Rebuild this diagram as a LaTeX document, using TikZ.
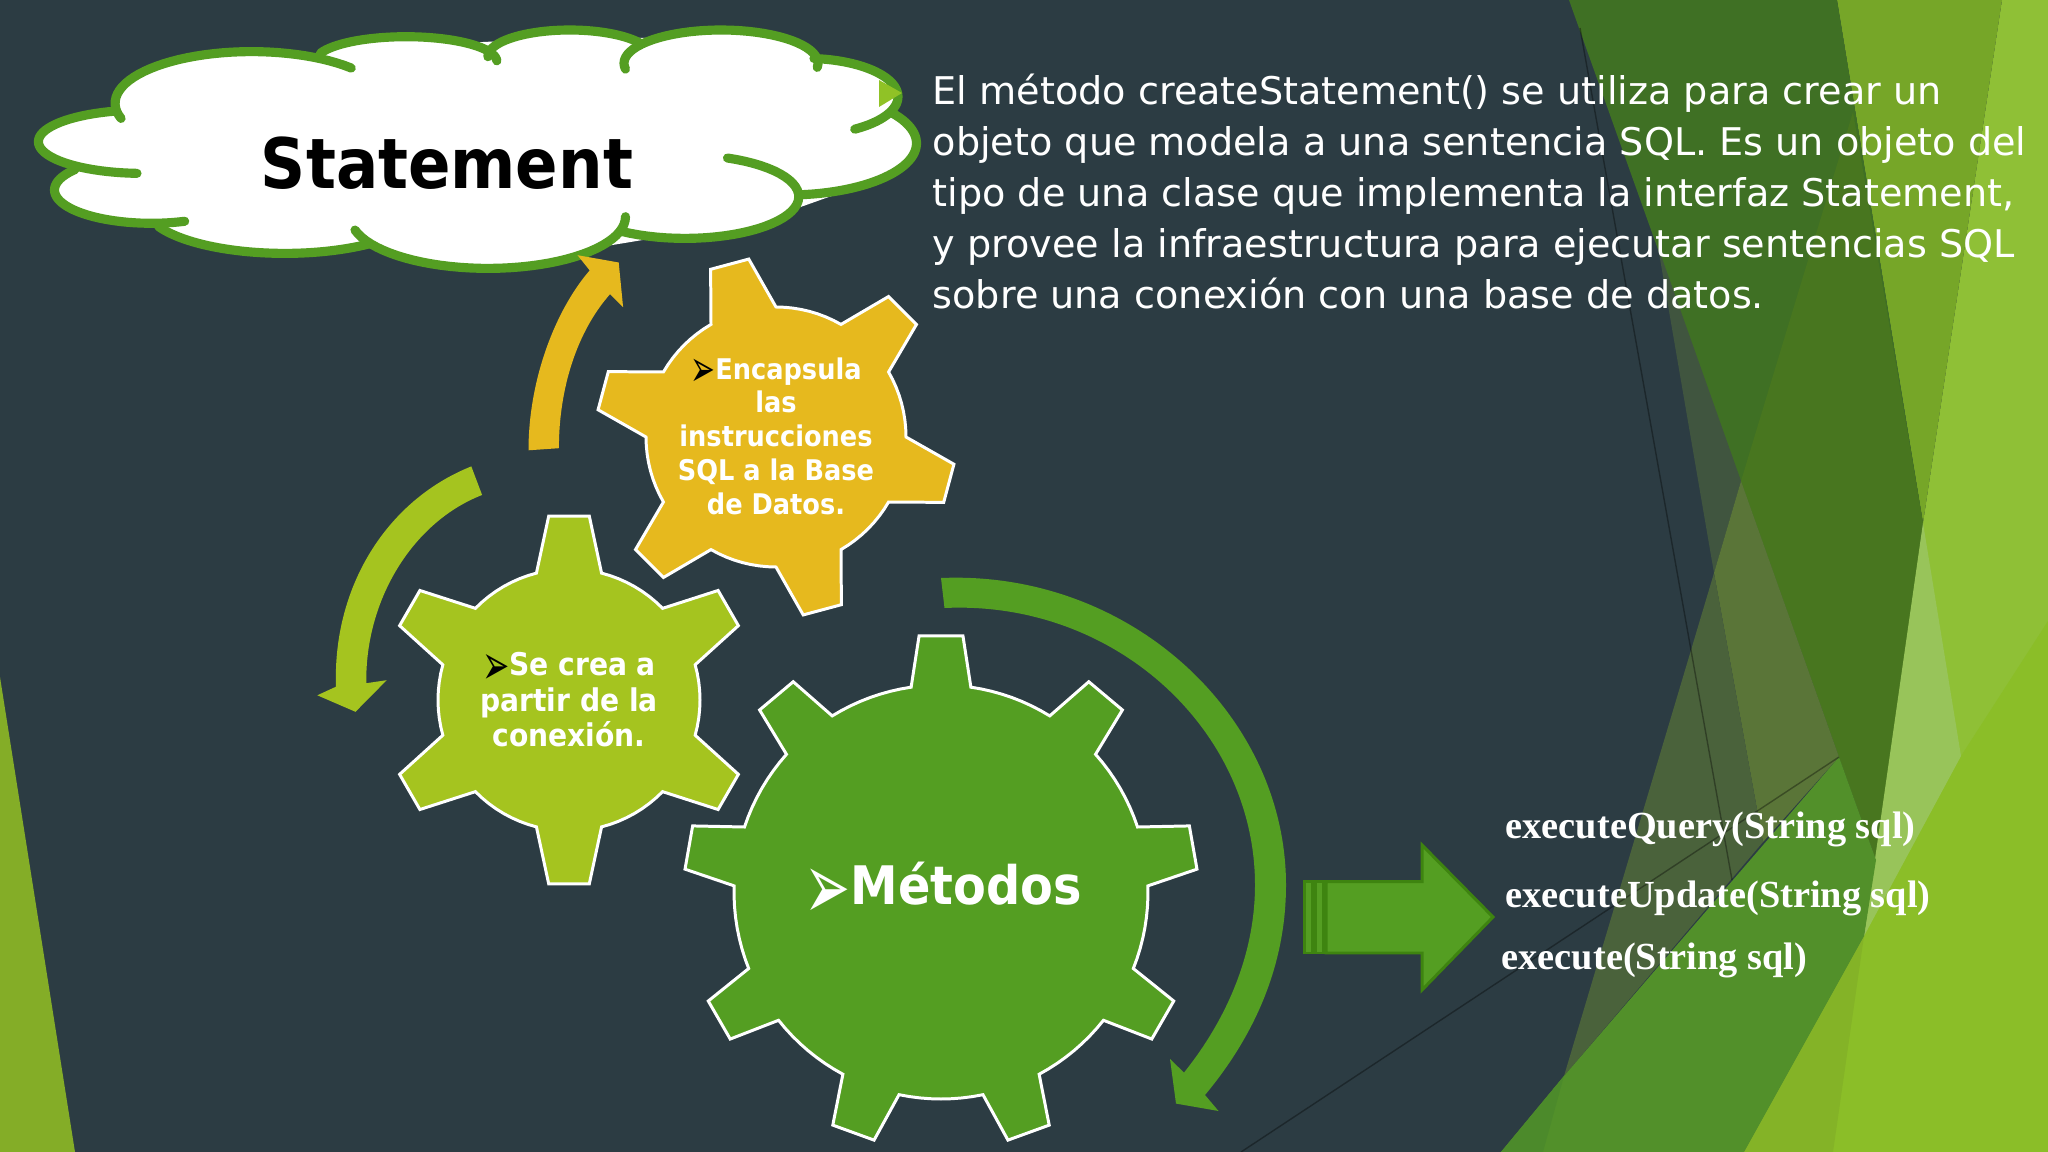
\documentclass[tikz,border=0pt]{standalone}
\usepackage{fontspec}
\setmainfont{DejaVu Sans}
\newfontfamily\gearFont{DejaVu Sans Condensed}
\newfontfamily\bulletFont{DejaVu Sans}[FakeStretch=0.58]
\newfontfamily\serifBold{Liberation Serif}[BoldFont={Liberation Serif Bold}]
\usetikzlibrary{calc}
\definecolor{slideDark}{HTML}{2C3C43}
\definecolor{amberGear}{HTML}{E6B91E}
\definecolor{limeGear}{HTML}{A5C41F}
\definecolor{greenGear}{HTML}{549E22}
\definecolor{arrowEdge}{HTML}{3E8410}
\definecolor{fBright}{HTML}{8FC036}
\definecolor{fBrightLow}{HTML}{8BBE28}
\definecolor{fStrip}{HTML}{84B327}
\definecolor{fMid}{HTML}{76A628}
\definecolor{fDark}{HTML}{3F7024}
\definecolor{fDarkLow}{HTML}{48761F}
\definecolor{fPale}{HTML}{98C45A}
\definecolor{fGreen}{HTML}{52902A}
\definecolor{fGreenLeft}{HTML}{4C8A2B}
\definecolor{fGrey}{HTML}{40553F}
\definecolor{fOlive}{HTML}{5A7538}
\definecolor{fOliveDark}{HTML}{4A623B}
\definecolor{fLeft}{HTML}{84AD27}
\definecolor{fBullet}{HTML}{90C226}
\tikzset{
    gearAmber/.style={
        fill=amberGear,
        draw=white,
        line width=0.85pt
    },
    gearLime/.style={
        fill=limeGear,
        draw=white,
        line width=0.85pt
    },
    gearGreen/.style={
        fill=greenGear,
        draw=white,
        line width=0.85pt
    },
    blockArrow/.style={
        fill=greenGear,
        draw=arrowEdge,
        line width=0.85pt
    },
    cloudLine/.style={
        draw=greenGear,
        line width=2.6pt,
        line cap=round,
        line join=round
    },
    thinLine/.style={
        draw=black,
        opacity=0.35,
        line width=0.4pt
    },
    paragraphText/.style={
        text=white,
        inner sep=0pt,
        align=left,
        font={\fontsize{10.85pt}{14.5pt}\selectfont}
    },
    gearText/.style={
        text=white,
        inner sep=0pt,
        align=center
    },
    execText/.style={
        text=white,
        inner sep=0pt,
        anchor=base west,
        font={\fontsize{10.9pt}{12pt}\serifBold\bfseries}
    }
}
% gear: style, centre, tip radius, root radius, teeth, first tooth, tip half angle, base half angle
\newcommand{\gearShape}[8]{
    \pgfmathsetmacro{\gearStep}{360/#5}
    \draw[#1, shift={#2}] ({#6-#8}:#4)
        \foreach \t in {1,...,#5}{
            -- ({#6+(\t-1)*\gearStep-#7}:#3)
            -- ({#6+(\t-1)*\gearStep+#7}:#3)
            -- ({#6+(\t-1)*\gearStep+#8}:#4)
            \foreach \a in {1,...,8}{
                -- ({#6+(\t-1)*\gearStep+#8+\a*(\gearStep-2*#8)/8}:#4)
            }
        } -- cycle;
}
% lobe: centre x, centre y, x radius, y radius, from angle, to angle
\newcommand{\lobeFill}[6]{\fill[white] plot[domain=0:360, samples=60] ({#1+#3*cos(\x)},{#2+#4*sin(\x)});}
\newcommand{\lobeLine}[6]{\draw[cloudLine] plot[domain=#5:#6, samples=40] ({#1+#3*cos(\x)},{#2+#4*sin(\x)});}
\newcommand{\cloudLobes}[1]{
    #1{251.5}{103.3}{136.4}{51.7}{163}{317}
    #1{406}{61.7}{90.9}{25}{200}{358}
    #1{569.7}{56.7}{81.8}{26.7}{180}{328}
    #1{721}{63.3}{97}{33.3}{170}{367}
    #1{806}{96.7}{92}{38.3}{275}{418}
    #1{788}{143.3}{128.5}{51.7}{-36}{85}
    #1{684.8}{196.7}{114}{41.7}{-68}{124}
    #1{487.9}{216.7}{137.6}{51.7}{0}{165}
    #1{284.8}{206.7}{139.4}{46.7}{53}{155}
    #1{151.5}{190}{97}{33.3}{70}{218}
    #1{142.4}{141.7}{104}{31.7}{93}{255}
}
\newcommand{\gearBullet}[1]{\smash{\bulletFont\fontsize{#1}{0pt}\selectfont\raisebox{-0.15em}{➢}}}

\begin{document}
\begin{tikzpicture}[x=0.01cm, y=-0.01cm]
    \useasboundingbox (0,0) rectangle (2048,1152);
    \fill[slideDark] (0,0) rectangle (2048,1152);

    % slide facets
    \fill[fBright] (2002,0) -- (2048,0) -- (2048,1152) -- (1744,1152) -- (1864,936) -- (1923,523) -- cycle;
    \fill[fBrightLow] (1961,756) -- (2048,621) -- (2048,1152) -- (1744,1152) -- (1864,936) -- cycle;
    \fill[fStrip] (1744,1152) -- (1864,936) -- (1833,1152) -- cycle;
    \fill[fMid] (1837,0) -- (2002,0) -- (1923,523) -- cycle;
    \fill[fDark] (1569,0) -- (1837,0) -- (1923,523) -- (1864,936) -- (1876,860) -- (1839,757) -- cycle;
    \fill[fDarkLow] (1741,481) -- (1853,112) -- (1923,523) -- (1876,860) -- (1839,757) -- cycle;
    \fill[fPale] (1923,523) -- (1961,756) -- (1864,936) -- cycle;
    \fill[fGrey] (1658,247) -- (1741,481) -- (1714,573) -- cycle;
    \fill[fOlive] (1741,481) -- (1839,757) -- (1763,842) -- (1714,573) -- cycle;
    \fill[fOliveDark] (1714,573) -- (1763,842) -- (1564,1076) -- cycle;
    \fill[fGreen] (1839,757) -- (1876,860) -- (1864,936) -- (1744,1152) -- (1501,1152) -- (1564,1076) -- cycle;
    \fill[fGreenLeft] (1564,1076) -- (1501,1152) -- (1543,1152) -- cycle;
    \fill[fLeft] (0,677) -- (75,1152) -- (0,1152) -- cycle;
    \draw[thinLine] (1580,28) -- (1732,880);
    \draw[thinLine] (1241,1152) -- (1839,757);

    % cloud
    \fill[white] (124,110) -- (242,60) -- (418,45) -- (570,38) -- (715,38) -- (860,78)
        -- (885,177) -- (764,220) -- (570,252) -- (291,245) -- (139,216) -- (73,160) -- cycle;
    \cloudLobes{\lobeFill}
    \cloudLobes{\lobeLine}
    \fill[fBullet] (879,80) -- (902,93) -- (879,107) -- cycle;
    \node[inner sep=0pt, text=black, font={\fontsize{19.8pt}{24pt}\gearFont\bfseries}] (statement) at (447,163) {Statement};

    % curved arrows
    \fill[amberGear] (528.5,450.3) .. controls (528.5,378.8) and (555.9,309.4) .. (589.7,270.4)
        -- (577.5,255.2) -- (618.7,262.5) -- (623.1,307.2) -- (610,294.2)
        .. controls (577.5,331) and (558.9,387.4) .. (558.9,448.2) -- cycle;
    \fill[limeGear] (471.3,466.4) .. controls (386.7,500.2) and (332.5,586.9) .. (336,686.7)
        -- (317.3,695.3) -- (355.5,711.8) -- (386.7,680.2) -- (366.3,683.2)
        .. controls (365,599.9) and (412.7,521.9) .. (482.1,495) -- cycle;
    \fill[greenGear] (941,578) .. controls (1130,570) and (1286,715) .. (1286,885)
        .. controls (1286,965) and (1255,1035) .. (1205,1095)
        -- (1218.5,1111) -- (1176,1103.6) -- (1170,1059) -- (1184,1072.6)
        .. controls (1230,1015) and (1255,950) .. (1255,885)
        .. controls (1255,730) and (1115,600) .. (944.5,608) -- cycle;

    % gears
    \gearShape{gearAmber}{(776,437)}{180}{130}{6}{15}{6.3}{15}
    \gearShape{gearLime}{(569,700)}{185}{131}{6}{30}{6.3}{14.4}
    \gearShape{gearGreen}{(941,892)}{257}{207}{9}{30}{4.9}{8.3}
    \node[gearText, font={\fontsize{8.1pt}{9.6pt}\gearFont\bfseries}] (encapsula) at (776,436)
        {{\color{black}\gearBullet{14.6pt}}Encapsula\\las\\instrucciones\\SQL a la Base\\de Datos.};
    \node[gearText, font={\fontsize{8.9pt}{10.1pt}\gearFont\bfseries}] (seCrea) at (569,700)
        {{\color{black}\gearBullet{16pt}}Se crea a\\partir de la\\conexión.};
    \node[gearText, font={\fontsize{15.1pt}{18pt}\gearFont\bfseries}] (metodos) at (943,884)
        {\gearBullet{27pt}Métodos};

    % block arrow
    \draw[blockArrow] (1326,881.7) -- (1422,881.7) -- (1422,845) -- (1493,917) -- (1422,990) -- (1422,953) -- (1326,953) -- cycle;
    \draw[blockArrow] (1315,881.7) rectangle (1323.6,953);
    \draw[blockArrow] (1304.5,881.7) rectangle (1312.5,953);

    % texts
    \node[paragraphText, anchor=north west] (intro) at (932,73.5)
        {El método createStatement() se utiliza para crear un\\
         objeto que modela a una sentencia SQL. Es un objeto del\\
         tipo de una clase que implementa la interfaz Statement,\\
         y provee la infraestructura para ejecutar sentencias SQL\\
         sobre una conexión con una base de datos.};
    \node[execText] (execQuery) at (1505,838.5) {executeQuery(String sql)};
    \node[execText] (execUpdate) at (1505,907) {executeUpdate(String sql)};
    \node[execText] (execPlain) at (1501,969) {execute(String sql)};
\end{tikzpicture}
\end{document}
